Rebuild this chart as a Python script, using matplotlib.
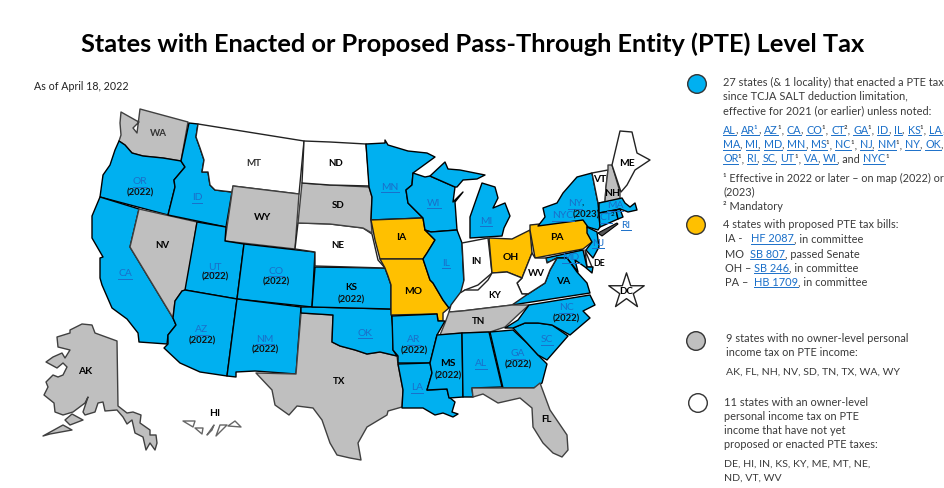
# PTE level tax map, outlines traced by hand in image pixels

import re
import matplotlib
matplotlib.use("Agg")
import matplotlib.pyplot as plt
from matplotlib.patches import Polygon, Circle

plt.rcParams['font.family'] = ['Lato', 'DejaVu Sans']

BLUE = "#00B0F0"
ORANGE = "#FFC000"
GRAY = "#BFBFBF"
LINK = "#1A6FC9"
TEXT = "#3A3A3A"

ENACTED = ["AL", "AR", "AZ", "CA", "CO", "CT", "GA", "ID", "IL", "KS", "LA", "MA", "MI", "MD", "MN", "MS",
           "NC", "NJ", "NM", "NY", "OK", "OR", "RI", "SC", "UT", "VA", "WI"]
PROPOSED = ["IA", "MO", "OH", "PA"]
NO_TAX = ["AK", "FL", "NH", "NV", "SD", "TN", "TX", "WA", "WY"]
NOT_YET = ["DE", "HI", "IN", "KY", "ME", "MT", "NE", "ND", "VT", "WV"]

WA = [[(121, 112), (137, 121), (139, 122), (133, 128), (137, 133), (140, 109), (188, 122), (181, 161), (163, 158),
       (143, 156), (132, 153), (125, 145), (119, 141), (121, 135), (120, 123)]]
OR = [[(119, 141), (125, 145), (132, 153), (143, 156), (163, 158), (181, 161), (185, 167), (174, 180), (175, 187),
       (168, 215), (100, 197), (103, 175), (110, 165), (115, 150)]]
CA = [[(100, 197), (139, 209), (130, 247), (173, 318), (176, 325), (168, 335), (167, 344), (139, 342), (138, 333),
       (127, 319), (112, 308), (102, 285), (100, 278), (100, 258), (103, 257), (92, 238), (92, 216)]]
NV = [[(139, 209), (197, 222), (186, 290), (182, 291), (175, 301), (173, 318), (130, 247)]]
ID = [[(189, 123), (198, 124), (196, 137), (200, 148), (204, 160), (202, 172), (208, 172), (210, 185), (215, 190),
       (232, 192), (226, 227), (168, 215), (175, 187), (174, 180), (185, 167), (181, 161)]]
MT = [[(198, 124), (304, 141), (299, 194), (233, 186), (232, 192), (215, 190), (210, 185), (208, 172), (202, 172),
       (204, 160), (200, 148), (196, 137)]]
WY = [[(233, 186), (299, 194), (295, 249), (225, 241), (227, 227)]]
UT = [[(197, 222), (226, 227), (225, 241), (244, 244), (237, 299), (185, 290)]]
CO = [[(244, 244), (315, 252), (312, 307), (237, 299)]]
AZ = [[(182, 291), (185, 290), (237, 299), (227, 376), (200, 372), (180, 363), (164, 348), (168, 344), (168, 335),
       (176, 325), (173, 318), (175, 301)]]
NM = [[(237, 299), (301, 307), (296, 374), (255, 371), (236, 372), (236, 377), (227, 376)]]
TX = [[(301, 313), (333, 315), (332, 342), (340, 346), (355, 350), (367, 354), (380, 352), (397, 356), (398, 364),
       (403, 390), (402, 407), (388, 411), (387, 415), (367, 427), (358, 443), (361, 460), (350, 458), (337, 455),
       (330, 443), (322, 420), (313, 408), (297, 406), (289, 415), (275, 405), (272, 390), (256, 373), (296, 374)]]
OK = [[(312, 307), (301, 307), (301, 313), (333, 315), (332, 342), (340, 346), (355, 350), (367, 354), (380, 352),
       (397, 356), (393, 350), (393, 330), (391, 309)]]
KS = [[(315, 267), (385, 268), (388, 276), (391, 285), (391, 309), (312, 307)]]
NE = [[(298, 223), (330, 224), (363, 228), (372, 234), (378, 260), (385, 268), (315, 266), (315, 252), (295, 249)]]
SD = [[(302, 183), (330, 185), (369, 187), (372, 197), (371, 220), (372, 233), (363, 228), (330, 224), (298, 223)]]
ND = [[(304, 141), (330, 142), (366, 144), (369, 180), (370, 186), (330, 185), (302, 183)]]
MN = [[(366, 144), (385, 143), (385, 140), (388, 145), (408, 151), (427, 153), (435, 157), (413, 173), (412, 185),
       (406, 190), (408, 203), (423, 218), (371, 220), (372, 197), (369, 187)]]
IA = [[(371, 220), (423, 218), (425, 230), (435, 240), (427, 253), (423, 259), (380, 259), (375, 240)]]
MO = [[(380, 259), (423, 259), (430, 280), (433, 283), (443, 300), (449, 308), (443, 313), (443, 321), (438, 321),
       (437, 314), (391, 315), (391, 285), (388, 276), (385, 268)]]
WI = [[(413, 173), (425, 177), (430, 176), (455, 187), (453, 202), (463, 192), (455, 202), (457, 230), (431, 232),
       (425, 230), (423, 218), (408, 203), (406, 190), (412, 185)]]
MI = [[(430, 176), (445, 162), (448, 169), (460, 170), (485, 175), (477, 179), (463, 180), (457, 187), (455, 187)],
      [(482, 183), (495, 187), (498, 198), (493, 208), (505, 203), (510, 216), (504, 228), (502, 236), (470, 238),
       (470, 217), (477, 197)]]
IL = [[(431, 232), (457, 230), (462, 243), (464, 285), (458, 300), (449, 308), (443, 300), (433, 283), (430, 280),
       (423, 259), (427, 253), (435, 240), (425, 230)]]
IN = [[(462, 243), (488, 238), (492, 273), (478, 285), (465, 290), (460, 295), (464, 280)]]
OH = [[(489, 238), (512, 239), (530, 230), (532, 253), (522, 278), (507, 272), (492, 273)]]
PA = [[(530, 225), (587, 219), (587, 227), (592, 242), (583, 249), (535, 258), (530, 230)]]
NY = [[(592, 173), (598, 203), (600, 227), (598, 230), (588, 227), (583, 220), (538, 226), (545, 217), (543, 208),
       (557, 203), (563, 193), (577, 177)]]
VT = [[(592, 173), (608, 170), (606, 187), (605, 202), (598, 203)]]
NH = [[(608, 165), (612, 165), (620, 192), (620, 200), (605, 202), (606, 187), (608, 170)]]
ME = [[(620, 131), (632, 132), (637, 153), (650, 160), (635, 170), (627, 185), (621, 192), (612, 165)]]
MA = [[(599, 203), (622, 198), (625, 203), (630, 207), (635, 203), (637, 210), (628, 212), (623, 210), (620, 209),
       (599, 213)]]
CT = [[(599, 213), (616, 210), (618, 219), (600, 227)]]
RI = [[(616, 210), (620, 209), (623, 217), (618, 219)]]
LONG_ISLAND = [[(598, 233), (617, 223), (618, 224), (602, 236)]]
NJ = [[(587, 227), (597, 232), (599, 247), (593, 258), (586, 250), (592, 242), (587, 233)]]
DE = [[(585, 250), (592, 267), (587, 267)]]
MD = [[(546, 258), (583, 250), (587, 267), (593, 267), (592, 273), (585, 267), (575, 260), (578, 272), (567, 258),
       (557, 258), (547, 263)]]
VA = [[(512, 305), (522, 296), (528, 294), (545, 283), (550, 270), (557, 258), (567, 258), (577, 272), (587, 283),
       (590, 293)]]
WV = [[(532, 253), (535, 258), (546, 258), (547, 263), (557, 258), (550, 270), (545, 283), (528, 294), (522, 294),
       (517, 283), (522, 278)]]
KY = [[(449, 312), (451, 305), (460, 293), (465, 290), (478, 290), (488, 280), (492, 273), (507, 272), (522, 278),
       (517, 283), (522, 294), (528, 294), (512, 305), (462, 311)]]
TN = [[(449, 312), (462, 311), (512, 305), (529, 305), (520, 313), (505, 327), (490, 332), (462, 333), (440, 335),
       (445, 323)]]
AR = [[(392, 316), (437, 314), (438, 321), (445, 321), (437, 335), (430, 363), (398, 363), (398, 356), (393, 350)]]
LA = [[(398, 364), (430, 363), (432, 373), (427, 390), (447, 389), (449, 397), (455, 402), (452, 412), (458, 414),
       (453, 417), (443, 413), (435, 415), (423, 408), (402, 408), (403, 390)]]
MS = [[(437, 335), (462, 333), (463, 397), (449, 398), (447, 389), (427, 390), (432, 373), (430, 363)]]
AL = [[(462, 333), (489, 332), (502, 387), (472, 388), (473, 397), (463, 397)]]
GA = [[(490, 332), (513, 330), (527, 343), (538, 355), (547, 364), (542, 383), (534, 388), (503, 388)]]
SC = [[(513, 328), (525, 323), (538, 323), (552, 325), (568, 336), (547, 360), (538, 355), (527, 343)]]
NC = [[(505, 328), (518, 320), (529, 305), (590, 295), (595, 305), (583, 311), (590, 318), (570, 335), (552, 325),
       (538, 323), (525, 323), (513, 328)]]
FL = [[(472, 388), (503, 388), (534, 388), (540, 383), (550, 410), (567, 435), (568, 450), (562, 457), (553, 453),
       (543, 443), (533, 427), (532, 408), (520, 398), (498, 403), (483, 394), (473, 397)]]
AK = [[(70, 330), (82, 324), (92, 325), (95, 333), (117, 341), (118, 406), (127, 413), (133, 412), (141, 415),
       (140, 423), (150, 430), (150, 435), (156, 435), (157, 443), (155, 450), (150, 443), (146, 450), (143, 437),
       (135, 433), (132, 420), (127, 424), (123, 417), (117, 410), (105, 411), (103, 402), (98, 403), (95, 412),
       (85, 415), (83, 412), (88, 397), (85, 403), (73, 412), (63, 415), (55, 412), (54, 403), (44, 395), (48, 387),
       (46, 382), (53, 375), (58, 377), (63, 375), (67, 367), (63, 363), (57, 368), (46, 362), (53, 357), (62, 353),
       (65, 358), (70, 350), (58, 347), (57, 337), (70, 333)],
      [(65, 420), (72, 414), (83, 420), (70, 425)],
      [(43, 436), (63, 425), (72, 430), (50, 434)]]
HI = [[(183, 421), (195, 421), (193, 427)], [(195, 428), (203, 428), (202, 434)],
      [(207, 435), (214, 425), (212, 430)], [(216, 436), (220, 425), (227, 425)],
      [(228, 426), (235, 421), (241, 427)]]

STATE_SHAPES = {"WA": WA, "OR": OR, "CA": CA, "NV": NV, "ID": ID, "MT": MT, "WY": WY, "UT": UT, "CO": CO, "AZ": AZ,
                "NM": NM, "TX": TX, "OK": OK, "KS": KS, "NE": NE, "SD": SD, "ND": ND, "MN": MN, "IA": IA, "MO": MO,
                "WI": WI, "MI": MI, "IL": IL, "IN": IN, "OH": OH, "PA": PA, "NY": NY, "VT": VT, "NH": NH, "ME": ME,
                "MA": MA, "CT": CT, "RI": RI, "NJ": NJ, "DE": DE, "MD": MD, "VA": VA, "WV": WV, "KY": KY, "TN": TN,
                "AR": AR, "LA": LA, "MS": MS, "AL": AL, "GA": GA, "SC": SC, "NC": NC, "FL": FL, "AK": AK, "HI": HI}

# name, x, y, is it a link
MAP_LABELS = [("WA", 158, 134, 0), ("OR", 140, 181, 1), ("ID", 197, 197, 1), ("MT", 254, 163, 0), ("ND", 336, 164, 0),
              ("SD", 338, 206, 0), ("WY", 263, 218, 0), ("NV", 162, 246, 0), ("UT", 215, 266, 1), ("CO", 276, 270, 1),
              ("CA", 125, 273, 1), ("NE", 338, 246, 0), ("KS", 351, 288, 0), ("AZ", 202, 329, 1), ("NM", 265, 338, 1),
              ("OK", 365, 332, 1), ("TX", 339, 381, 0), ("AK", 85, 372, 0), ("HI", 215, 414, 0), ("AR", 414, 339, 1),
              ("LA", 417, 387, 1), ("MS", 448, 364, 0), ("AL", 481, 363, 1), ("GA", 518, 353, 1), ("SC", 547, 339, 1),
              ("NC", 566, 307, 1), ("TN", 479, 321, 0), ("KY", 495, 295, 0), ("FL", 546, 420, 0), ("IA", 401, 238, 0),
              ("MO", 413, 292, 0), ("IL", 446, 262, 1), ("IN", 476, 262, 0), ("OH", 511, 257, 0), ("PA", 557, 237, 0),
              ("WV", 536, 274, 0), ("VA", 563, 282, 0), ("MD", 571, 257, 1), ("DE", 599, 263, 0), ("NJ", 598, 242, 1),
              ("RI", 626, 224, 1), ("CT", 606, 217, 1), ("MA", 615, 205, 1), ("ME", 627, 163, 0), ("VT", 600, 179, 0),
              ("NH", 612, 194, 0), ("MN", 390, 186, 1), ("WI", 434, 202, 1), ("MI", 486, 220, 1), ("DC", 626, 291, 0),
              ("NY", 575, 203, 1), ("NYC", 563, 215, 1)]
YEAR_LABELS = [("(2022)", 140, 193), ("(2022)", 215, 277), ("(2022)", 276, 282), ("(2022)", 351, 300),
               ("(2022)", 202, 341), ("(2022)", 265, 350), ("(2022)", 414, 351), ("(2022)", 448, 376),
               ("(2022)", 518, 365), ("(2022)", 566, 319), ("(2023)", 586, 215)]

# [..] marks a hyperlink
LEGEND_ROWS = [(723, 81, "27 states (& 1 locality) that enacted a PTE tax"),
               (723, 95, "since TCJA SALT deduction limitation,"),
               (723, 110, "effective for 2021 (or earlier) unless noted:"),
               (723, 129, "[AL], [AR¹], [AZ]¹, [CA], [CO]¹, [CT]², [GA]¹, [ID], [IL], [KS]¹, [LA],"),
               (723, 144, "[MA], [MI], [MD], [MN], [MS]¹, [NC]¹, [NJ], [NM]¹, [NY], [OK],"),
               (723, 158, "[OR]¹, [RI], [SC], [UT]¹, [VA], [WI], and [NYC]¹"),
               (723, 177, "¹ Effective in 2022 or later – on map (2022) or"),
               (723, 191, "(2023)"),
               (723, 206, "² Mandatory"),
               (723, 224, "4 states with proposed PTE tax bills:"),
               (725, 238, "IA -   [HF 2087], in committee"),
               (725, 253, "MO  [SB 807], passed Senate"),
               (725, 267, "OH – [SB 246], in committee"),
               (725, 281, "PA –  [HB 1709], in committee"),
               (726, 337, "9 states with no owner-level personal"),
               (726, 351, "income tax on PTE income:"),
               (726, 371, "AK, FL, NH, NV, SD, TN, TX, WA, WY"),
               (724, 402, "11 states with an owner-level"),
               (724, 415, "personal income tax on PTE"),
               (724, 430, "income that have not yet"),
               (724, 444, "proposed or enacted PTE taxes:"),
               (724, 463, "DE, HI, IN, KS, KY, ME, MT, NE,"),
               (724, 477, "ND, VT, WV")]
LEGEND_DOTS = [(697, 84, BLUE), (696, 225, ORANGE), (696, 341, GRAY), (698, 403, "white")]


def text_width(s, size, weight="normal"):
    t = ax.text(0, 0, s + "|", fontsize=size, fontweight=weight)
    w = t.get_window_extent(renderer).width
    t.set_text("|")
    w -= t.get_window_extent(renderer).width
    t.remove()
    return w


def link_text(x, y, s, size, weight="normal", ha="left"):
    w = text_width(s, size, weight)
    if ha == "center":
        x -= w / 2
    ax.text(x, y, s, color=LINK, fontsize=size, fontweight=weight, va="center_baseline", ha="left")
    ax.plot([x, x + w], [y + size * 0.75, y + size * 0.75], color=LINK, lw=0.7)


def row_size(row):
    # lato runs wide on capitals compared to the original font
    if row.count("[") >= 3:
        return 7.75
    if row.startswith("¹"):
        return 7.8
    if row.upper() == row and len(row) > 6:
        return 7.55
    return 7.95


def draw_row(x, y, row):
    size = row_size(row)
    for part in re.split(r"(\[[^\]]*\])", row):
        if not part:
            continue
        if part[0] == "[":
            link_text(x, y, part[1:-1], size)
            x += text_width(part[1:-1], size)
        else:
            ax.text(x, y, part, color=TEXT, fontsize=size, va="center_baseline", ha="left")
            x += text_width(part, size)


fig = plt.figure(figsize=(9.44, 4.88), dpi=100)
ax = fig.add_axes([0, 0, 1, 1])
ax.set_xlim(0, 944)
ax.set_ylim(488, 0)
ax.set_axis_off()
renderer = fig.canvas.get_renderer()

ax.text(473, 44, "States with Enacted or Proposed Pass-Through Entity (PTE) Level Tax", fontsize=18.3,
        fontweight="bold", color="black", ha="center", va="center")
ax.text(34, 86, "As of April 18, 2022", fontsize=7.7, color="#222222", va="center")

for state, shapes in STATE_SHAPES.items():
    if state in ENACTED:
        fill, edge = BLUE, "black"
    elif state in PROPOSED:
        fill, edge = ORANGE, "#222222"
    elif state in NO_TAX:
        fill, edge = GRAY, "#404040"
    else:
        fill, edge = "white", "#222222"
    if state == "HI":
        edge = "#666666"
    for pts in shapes:
        ax.add_patch(Polygon(pts, closed=True, facecolor=fill, edgecolor=edge, lw=1.0, joinstyle="round"))
for pts in LONG_ISLAND:
    ax.add_patch(Polygon(pts, closed=True, facecolor="#555555", edgecolor="black", lw=0.8))

ax.scatter([626], [291], marker="*", s=720, facecolor="white", edgecolor="#222222", linewidth=1.0, zorder=3)

for name, x, y, is_link in MAP_LABELS:
    if name == "DE":
        size = 6.2
    elif name in ("DC", "ND", "NE", "SD", "IN", "KY", "TX", "KS", "FL", "WA", "MT", "NV", "WV", "TN"):
        size = 7.0
    else:
        size = 7.4
    if is_link:
        link_text(x, y, name, size, ha="center")
    else:
        color = "#333333" if name in ("WA", "MT") else "black"
        ax.text(x, y, name, fontsize=size, fontweight="bold", color=color, ha="center", va="center", zorder=4)
ax.text(583, 203, ",", fontsize=7, color="black", ha="center", va="center")
ax.text(613, 215, "2", fontsize=4.5, color="black", ha="center", va="center")
for label, x, y in YEAR_LABELS:
    ax.text(x, y, label, fontsize=6.8, fontweight="bold", color="#111111", ha="center", va="center", zorder=4)

for x, y, color in LEGEND_DOTS:
    ax.add_patch(Circle((x, y), 9.3, facecolor=color, edgecolor="#333333", lw=1.0))
for x, y, row in LEGEND_ROWS:
    draw_row(x, y, row)

fig.savefig("out.png", dpi=100)
